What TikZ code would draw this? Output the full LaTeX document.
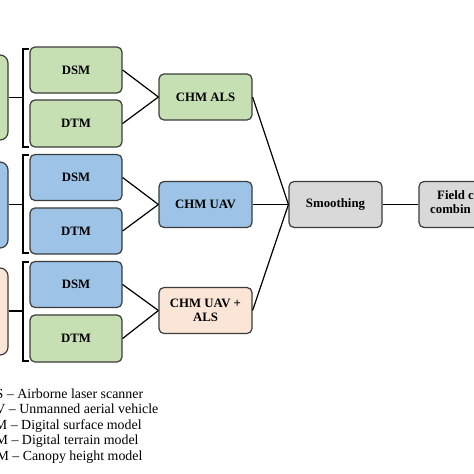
\documentclass[tikz,border=0pt]{standalone}
\usepackage{fontspec}
\setmainfont{Liberation Serif}
\definecolor{cgreen}{RGB}{198,224,180}
\definecolor{cblue}{RGB}{157,195,230}
\definecolor{cpeach}{RGB}{251,229,214}
\definecolor{cgray}{RGB}{217,217,217}
\definecolor{cborder}{RGB}{60,60,60}
\tikzset{
  box/.style={draw=cborder, line width=1.2pt, rounded corners=5pt, minimum width=92pt, minimum height=46pt, inner sep=0pt, align=center, font=\fontsize{12.8}{14}\selectfont\bfseries},
  bigbox/.style={draw=cborder, line width=1.2pt, rounded corners=8pt, minimum width=88pt, inner sep=0pt},
  conn/.style={draw=black, line width=1.2pt},
  brack/.style={draw=black, line width=1.2pt},
  legend/.style={anchor=base west, inner sep=0pt, font=\fontsize{13.9}{15.5}\selectfont},
}
\begin{document}
\begin{tikzpicture}[x=1pt,y=-1pt]
\useasboundingbox (0,0) rectangle (474,474);
\fill[white] (0,0) rectangle (474,474);
\clip (0,0) rectangle (474,474);
% left source boxes (cut off)
\node[bigbox, fill=cgreen, minimum height=85pt] (srcA) at (-36,97.5) {};
\node[bigbox, fill=cblue, minimum height=86pt] (srcB) at (-36,205) {};
\node[bigbox, fill=cpeach, minimum height=87pt] (srcC) at (-36,311.5) {};
% model boxes
\node[box, fill=cgreen] (dsm1) at (76,70) {DSM};
\node[box, fill=cgreen, minimum height=47pt] (dtm1) at (76,123.5) {DTM};
\node[box, fill=cblue] (dsm2) at (76,177.5) {DSM};
\node[box, fill=cblue] (dtm2) at (76,231) {DTM};
\node[box, fill=cblue] (dsm3) at (76,284.5) {DSM};
\node[box, fill=cgreen, minimum height=47pt] (dtm3) at (76,338.5) {DTM};
% CHM boxes
\node[box, fill=cgreen, minimum width=93pt] (chmals) at (205.5,97) {CHM ALS};
\node[box, fill=cblue, minimum width=93pt] (chmuav) at (205.5,204.5) {CHM UAV};
\node[box, fill=cpeach, minimum width=93pt] (chmboth) at (205.5,310.5) {CHM UAV +\\ALS};
% processing
\node[box, fill=cgray, minimum width=93pt] (smooth) at (335.5,204.5) {Smoothing};
\node[box, fill=cgray, minimum width=93pt] (field) at (465.5,204.5) {};
\node[anchor=base west, inner sep=0pt, font=\fontsize{12.8}{14}\selectfont\bfseries] (fieldA) at (437,199.5) {Field c};
\node[anchor=base west, inner sep=0pt, font=\fontsize{12.8}{14}\selectfont\bfseries] (fieldB) at (430,213) {combin};
% brackets
\coordinate (bA) at (23,97.5);
\coordinate (bB) at (23,204.5);
\coordinate (bC) at (23,311);
\draw[brack] (29,49) -- (23,49) -- (23,147) -- (29,147);
\draw[brack] (29,155) -- (23,155) -- (23,253) -- (29,253);
\draw[brack] (29,262) -- (23,262) -- (23,361) -- (29,361);
\draw[conn] (srcA.east |- bA) -- (bA);
\draw[conn] (srcB.east |- bB) -- (bB);
\draw[conn] (srcC.east |- bC) -- (bC);
% connectors
\draw[conn] (dsm1.east) -- (chmals.west);
\draw[conn] (dtm1.east) -- (chmals.west);
\draw[conn] (dsm2.east) -- (chmuav.west);
\draw[conn] (dtm2.east) -- (chmuav.west);
\draw[conn] (dsm3.east) -- (chmboth.west);
\draw[conn] (dtm3.east) -- (chmboth.west);
\draw[conn] (chmals.east) -- (smooth.west);
\draw[conn] (chmuav.east) -- (smooth.west);
\draw[conn] (chmboth.east) -- (smooth.west);
\draw[conn] (smooth.east) -- (field.west);
% legend
\node[legend] (leg1) at (-23,398) {ALS – Airborne laser scanner};
\node[legend] (leg2) at (-23,413.5) {UAV – Unmanned aerial vehicle};
\node[legend] (leg3) at (-23,429) {DSM – Digital surface model};
\node[legend] (leg4) at (-23,444.5) {DTM – Digital terrain model};
\node[legend] (leg5) at (-23,460) {CHM – Canopy height model};
\end{tikzpicture}
\end{document}
